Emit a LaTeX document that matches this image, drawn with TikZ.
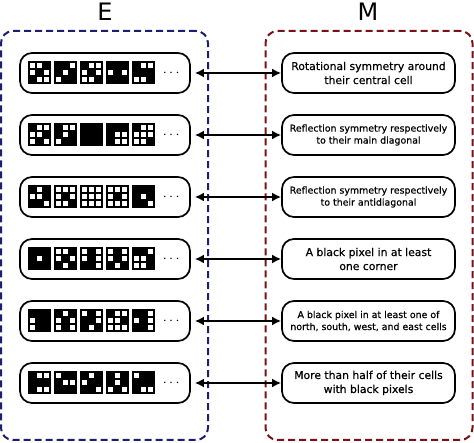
\documentclass[tikz,border=0pt]{standalone}
\usepackage{fontspec}
\setmainfont{DejaVu Sans}
\newfontfamily\boxfont[FakeBold=0.6]{DejaVu Sans}
\usetikzlibrary{arrows.meta,positioning}
\definecolor{setblue}{RGB}{30, 30, 112}
\definecolor{setred}{RGB}{122, 16, 24}

\newcommand{\pixgrid}[3]{%
  \begin{scope}[shift={(#1.center)}, xshift={-77pt+26pt*#2}, yshift=-11.5pt]
    \fill[black] (0,0) rectangle (23,23);
    \foreach \bit [count=\i from 0] in #3 {
      \pgfmathtruncatemacro{\prow}{div(\i,3)}
      \pgfmathtruncatemacro{\pcol}{mod(\i,3)}
      \ifnum\bit=1 \fill[white] (2+7*\pcol, 16-7*\prow) rectangle +(5,5); \fi
    }
  \end{scope}}

\begin{document}
\begin{tikzpicture}[x=1pt, y=1pt,
    exbox/.style={draw, rounded corners=12pt, line width=1.7pt, minimum width=170pt, minimum height=40pt},
    mbox/.style={draw, rounded corners=12pt, line width=1.7pt, minimum width=173pt, minimum height=40pt, align=center, inner sep=1pt},
    bigtxt/.style={font=\boxfont\fontsize{10.8}{14}\selectfont},
    smalltxt/.style={font=\boxfont\fontsize{9.4}{12}\selectfont},
    setframe/.style={draw, dash pattern=on 7pt off 4pt, line width=2pt, rounded corners=12pt, minimum width=207pt, minimum height=409pt},
    settitle/.style={font=\fontsize{24}{24}\selectfont},
    dotsnode/.style={font=\fontsize{15}{15}\selectfont, inner sep=0pt},
    conn/.style={{Latex[length=9pt,width=9pt]}-{Latex[length=9pt,width=9pt]}, line width=1.8pt, shorten <=4pt}]
  \useasboundingbox (0,0) rectangle (474,443);

  \node[setframe, setblue] (E) at (104.5,207.5) {};
  \node[setframe, setred]  (M) at (369,207.5) {};
  \node[settitle] (Etitle) at (105,431) {E};
  \node[settitle] (Mtitle) at (368,431) {M};

  \node[exbox] (ex1) at (105,370) {};
  \node[exbox] (ex2) at (105,308) {};
  \node[exbox] (ex3) at (105,246) {};
  \node[exbox] (ex4) at (105,184) {};
  \node[exbox] (ex5) at (105,122) {};
  \node[exbox] (ex6) at (105,60) {};

  \node[mbox, bigtxt]   (mb1) at (368.5,370) {Rotational symmetry around\\their central cell};
  \node[mbox, smalltxt] (mb2) at (368.5,308) {Reflection symmetry respectively\\to their main diagonal};
  \node[mbox, smalltxt] (mb3) at (368.5,246) {Reflection symmetry respectively\\to their antidiagonal};
  \node[mbox, bigtxt]   (mb4) at (368.5,184) {A black pixel in at least\\one corner};
  \node[mbox, smalltxt] (mb5) at (368.5,122) {A black pixel in at least one of\\north, south, west, and east cells};
  \node[mbox, bigtxt]   (mb6) at (368.5,60)  {More than half of their cells\\with black pixels};

  \foreach \pat [count=\k from 0] in {{1,1,0,1,0,1,0,1,1},{0,0,1,0,1,0,1,0,0},{0,1,1,1,0,1,1,1,0},{0,0,0,1,0,1,0,0,0},{0,1,1,0,0,0,1,1,0}}
    \pixgrid{ex1}{\k}{\pat};
  \foreach \pat [count=\k from 0] in {{0,1,1,1,1,0,1,0,1},{0,1,1,0,1,0,1,0,0},{0,0,0,0,0,0,0,0,0},{0,0,0,0,1,1,0,1,1},{0,1,1,1,1,1,1,1,0}}
    \pixgrid{ex2}{\k}{\pat};
  \foreach \pat [count=\k from 0] in {{0,1,0,1,1,0,0,0,1},{1,1,1,1,0,1,1,1,0},{1,1,1,1,1,1,1,1,1},{1,1,1,1,0,1,1,1,1},{0,0,0,0,1,0,0,0,1}}
    \pixgrid{ex3}{\k}{\pat};
  \foreach \pat [count=\k from 0] in {{0,0,0,0,1,0,0,0,0},{1,1,0,1,0,1,0,1,0},{1,0,1,1,0,1,0,0,1},{1,0,1,1,0,1,0,1,0},{0,0,1,1,1,0,1,1,0}}
    \pixgrid{ex4}{\k}{\pat};
  \foreach \pat [count=\k from 0] in {{0,0,0,1,0,0,1,0,0},{0,1,0,1,0,1,1,0,1},{1,0,1,0,0,1,0,1,0},{0,1,1,1,1,0,1,1,1},{0,0,1,1,0,1,0,0,1}}
    \pixgrid{ex5}{\k}{\pat};
  \foreach \pat [count=\k from 0] in {{0,1,1,0,0,0,0,1,1},{1,0,0,0,1,1,0,0,0},{0,1,0,1,0,0,0,0,1},{0,1,0,0,1,0,1,0,1},{1,0,0,0,0,0,0,1,1}}
    \pixgrid{ex6}{\k}{\pat};

  \foreach \n in {1,...,6} {
    \node[dotsnode, left=11pt of ex\n.east] (dots\n) {$\cdots$};
    \draw[conn] (ex\n) -- (mb\n);
  }
\end{tikzpicture}
\end{document}
